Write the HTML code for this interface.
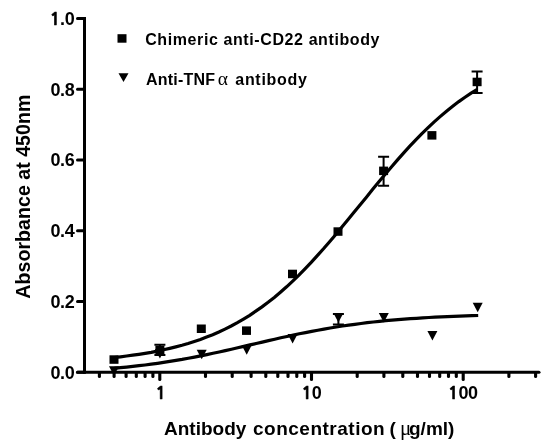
<!DOCTYPE html>
<html><head><meta charset="utf-8"><style>
html,body{margin:0;padding:0;background:#fff;}
body{width:550px;height:448px;overflow:hidden;position:relative;}
svg{position:absolute;left:0;top:0;}
text{font-family:"Liberation Sans",Arial,sans-serif;font-weight:bold;fill:#000;}
.one{font-family:"NanumGothic","Liberation Sans",sans-serif;stroke:#000;stroke-width:0.6px;}
</style></head><body>
<svg width="550" height="448" viewBox="0 0 550 448">
<g stroke="#000" stroke-width="3" fill="none" stroke-linecap="butt">
<line x1="84.5" y1="17.1" x2="84.5" y2="373.8"/>
<line x1="77.5" y1="372.3" x2="539" y2="372.3" stroke-linecap="round"/>
<line x1="77.5" y1="372.3" x2="84" y2="372.3" stroke-linecap="round"/><line x1="77.5" y1="301.6" x2="84" y2="301.6" stroke-linecap="round"/><line x1="77.5" y1="230.8" x2="84" y2="230.8" stroke-linecap="round"/><line x1="77.5" y1="160.1" x2="84" y2="160.1" stroke-linecap="round"/><line x1="77.5" y1="89.3" x2="84" y2="89.3" stroke-linecap="round"/><line x1="77.5" y1="18.6" x2="84" y2="18.6" stroke-linecap="round"/>
</g>
<g stroke="#000" stroke-width="3.1" stroke-linecap="round"><line x1="99.4" y1="373" x2="99.4" y2="376.4" /><line x1="114.1" y1="373" x2="114.1" y2="376.4" /><line x1="126.1" y1="373" x2="126.1" y2="376.4" /><line x1="136.3" y1="373" x2="136.3" y2="376.4" /><line x1="145.1" y1="373" x2="145.1" y2="376.4" /><line x1="152.9" y1="373" x2="152.9" y2="376.4" /><line x1="159.8" y1="373" x2="159.8" y2="379.4" /><line x1="205.5" y1="373" x2="205.5" y2="376.4" /><line x1="232.2" y1="373" x2="232.2" y2="376.4" /><line x1="251.1" y1="373" x2="251.1" y2="376.4" /><line x1="265.8" y1="373" x2="265.8" y2="376.4" /><line x1="277.8" y1="373" x2="277.8" y2="376.4" /><line x1="288.0" y1="373" x2="288.0" y2="376.4" /><line x1="296.8" y1="373" x2="296.8" y2="376.4" /><line x1="304.6" y1="373" x2="304.6" y2="376.4" /><line x1="311.5" y1="373" x2="311.5" y2="379.4" /><line x1="357.2" y1="373" x2="357.2" y2="376.4" /><line x1="383.9" y1="373" x2="383.9" y2="376.4" /><line x1="402.8" y1="373" x2="402.8" y2="376.4" /><line x1="417.5" y1="373" x2="417.5" y2="376.4" /><line x1="429.5" y1="373" x2="429.5" y2="376.4" /><line x1="439.7" y1="373" x2="439.7" y2="376.4" /><line x1="448.5" y1="373" x2="448.5" y2="376.4" /><line x1="456.3" y1="373" x2="456.3" y2="376.4" /><line x1="463.2" y1="373" x2="463.2" y2="379.4" /><line x1="508.9" y1="373" x2="508.9" y2="376.4" /><line x1="535.6" y1="373" x2="535.6" y2="376.4" /></g>
<g font-size="18" letter-spacing="-0.3"><text x="74.5" y="378.6" text-anchor="end">0.0</text><text x="74.5" y="307.9" text-anchor="end">0.2</text><text x="74.5" y="237.1" text-anchor="end">0.4</text><text x="74.5" y="166.4" text-anchor="end">0.6</text><text x="74.5" y="95.6" text-anchor="end">0.8</text><text x="74.5" y="24.9" text-anchor="end"><tspan class="one">1</tspan>.0</text></g>
<g font-size="18" text-anchor="middle" letter-spacing="-0.3">
<text x="160.6" y="399"><tspan class="one">1</tspan></text><text x="311.3" y="399"><tspan class="one">1</tspan>0</text><text x="462.8" y="399"><tspan class="one">1</tspan>00</text>
</g>
<g font-size="19">
<text x="164" y="434.5">Antibody</text>
<text x="253" y="434.5" letter-spacing="0.5">concentration</text>
<text x="389.6" y="434.5">(</text>
<text x="400" y="434.5" style="font-family:'Liberation Serif',serif;font-weight:normal;font-size:21px">μ</text>
<text x="409" y="434.5">g/ml)</text>
</g>
<text transform="translate(29.6,298.7) rotate(-90)" font-size="19.65">Absorbance at 450nm</text>
<g stroke="#000" stroke-width="3.2" fill="none">
<path d="M114.3,357.5 L120.5,356.8 L126.6,356.0 L132.8,355.2 L138.9,354.3 L145.1,353.3 L151.2,352.3 L157.4,351.1 L163.5,349.8 L169.7,348.4 L175.8,346.9 L182.0,345.3 L188.1,343.5 L194.3,341.5 L200.4,339.4 L206.6,337.1 L212.7,334.7 L218.9,332.0 L225.0,329.1 L231.2,326.0 L237.4,322.7 L243.5,319.1 L249.7,315.3 L255.8,311.2 L262.0,306.9 L268.1,302.3 L274.3,297.4 L280.4,292.2 L286.6,286.8 L292.7,281.1 L298.9,275.1 L305.0,268.9 L311.2,262.4 L317.3,255.7 L323.5,248.8 L329.6,241.7 L335.8,234.5 L341.9,227.1 L348.1,219.6 L354.2,212.1 L360.4,204.5 L366.6,196.9 L372.7,189.3 L378.9,181.8 L385.0,174.4 L391.2,167.2 L397.3,160.1 L403.5,153.1 L409.6,146.4 L415.8,139.9 L421.9,133.6 L428.1,127.6 L434.2,121.9 L440.4,116.4 L446.5,111.2 L452.7,106.3 L458.8,101.6 L465.0,97.3 L471.1,93.1 L477.3,89.3"/>
<path d="M114.3,368.3 L120.5,367.7 L126.6,367.1 L132.8,366.4 L139.0,365.7 L145.1,365.0 L151.3,364.2 L157.5,363.3 L163.6,362.4 L169.8,361.4 L176.0,360.4 L182.1,359.4 L188.3,358.2 L194.5,357.1 L200.6,355.9 L206.8,354.6 L213.0,353.3 L219.2,352.0 L225.3,350.6 L231.5,349.2 L237.7,347.8 L243.8,346.4 L250.0,344.9 L256.2,343.5 L262.3,342.1 L268.5,340.6 L274.7,339.2 L280.8,337.8 L287.0,336.5 L293.2,335.1 L299.3,333.8 L305.5,332.6 L311.7,331.4 L317.8,330.2 L324.0,329.1 L330.2,328.0 L336.3,327.0 L342.5,326.0 L348.7,325.1 L354.8,324.3 L361.0,323.5 L367.2,322.7 L373.3,322.0 L379.5,321.4 L385.7,320.7 L391.9,320.2 L398.0,319.6 L404.2,319.2 L410.4,318.7 L416.5,318.3 L422.7,317.9 L428.9,317.5 L435.0,317.2 L441.2,316.9 L447.4,316.6 L453.5,316.4 L459.7,316.1 L465.9,315.9 L472.0,315.7 L478.2,315.5"/>
</g>
<g stroke="#000" stroke-width="2" fill="none"><path d="M338.4,313.9 V324.6 M332.9,313.9 H343.9 M332.9,324.6 H343.9"/><path d="M159.9,344.7 V355.0 M154.4,344.7 H165.4 M154.4,355.0 H165.4"/><path d="M383.6,156.7 V185.8 M378.1,156.7 H389.1 M378.1,185.8 H389.1"/><path d="M477.1,71.5 V93.1 M471.6,71.5 H482.6 M471.6,93.1 H482.6"/></g>
<g fill="#000"><rect x="109.5" y="355.3" width="9" height="8.5"/><rect x="155.4" y="345.7" width="9" height="8.5"/><rect x="196.8" y="324.5" width="9" height="8.5"/><rect x="242.0" y="326.4" width="9" height="8.5"/><rect x="288.0" y="269.7" width="9" height="8.5"/><rect x="333.5" y="227.3" width="9" height="8.5"/><rect x="379.1" y="166.6" width="9" height="8.5"/><rect x="427.4" y="131.1" width="9" height="8.5"/><rect x="472.6" y="77.7" width="9" height="8.5"/><path d="M109.0,366.2 L119.0,366.2 L114.0,375.7 Z"/><path d="M154.9,349.0 L164.9,349.0 L159.9,358.5 Z"/><path d="M196.7,349.8 L206.7,349.8 L201.7,359.3 Z"/><path d="M241.7,345.2 L251.7,345.2 L246.7,354.7 Z"/><path d="M287.6,334.0 L297.6,334.0 L292.6,343.5 Z"/><path d="M333.4,313.1 L343.4,313.1 L338.4,322.6 Z"/><path d="M378.8,313.1 L388.8,313.1 L383.8,322.6 Z"/><path d="M427.4,330.9 L437.4,330.9 L432.4,340.4 Z"/><path d="M472.7,302.7 L482.7,302.7 L477.7,312.2 Z"/></g>
<rect x="117.5" y="34.2" width="9" height="8.5" fill="#000"/>
<path d="M118.5,73.3 L128.5,73.3 L123.5,82 Z" fill="#000"/>
<g font-size="16">
<text x="145.2" y="44.6" letter-spacing="0.6">Chimeric anti-CD22 antibody</text>
<text x="146" y="85" letter-spacing="0.2">Anti-TNF</text>
<text x="217.8" y="85" style="font-family:'Liberation Serif',serif;font-weight:normal;font-size:19.5px">α</text>
<text x="235.3" y="85" letter-spacing="0.7">antibody</text>
</g>
</svg>
</body></html>
